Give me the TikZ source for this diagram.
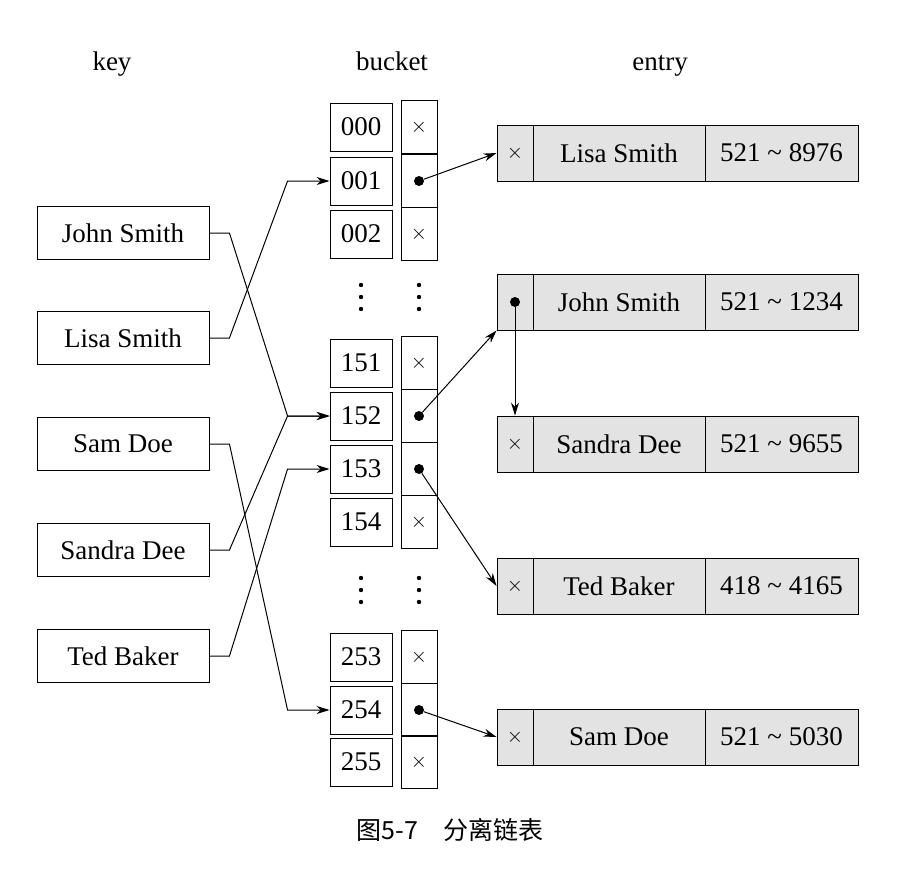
\documentclass[tikz,border=0pt]{standalone}
\usepackage{fontspec}
\setmainfont{Liberation Serif}
\newfontfamily\cjk{Noto Sans CJK SC}
\usetikzlibrary{positioning,calc,arrows.meta}
\tikzset{
  box/.style={draw,line width=0.9pt,inner sep=0pt,font=\fontsize{27}{28}\selectfont},
  keybox/.style={box,minimum width=172pt,minimum height=53pt},
  numbox/.style={box,minimum width=62pt,minimum height=48pt},
  ptrbox/.style={box,minimum width=36pt,minimum height=53pt,font=\fontsize{20}{20}\selectfont},
  ebox/.style={box,fill=gray!22,minimum height=56pt},
  link/.style={-{Stealth[length=13pt,width=8pt]},line width=1pt},
  pdot/.style={circle,fill,inner sep=0pt,minimum size=10pt},
  head/.style={font=\fontsize{27}{28}\selectfont,anchor=base}
}
\begin{document}
\begin{tikzpicture}[x=1pt,y=-1pt]
    \useasboundingbox (0,0) rectangle (905,870);
    % headers
    \node[head] (hkey) at (112,70) {key};
    \node[head] (hbucket) at (392,70) {bucket};
    \node[head] (hentry) at (660,70) {entry};

    % keys
    \node[keybox] (kjohn) at (123,233) {John Smith};
    \node[keybox] (klisa) at (123,338) {Lisa Smith};
    \node[keybox] (ksam) at (123,444) {Sam Doe};
    \node[keybox] (ksandra) at (123,550) {Sandra Dee};
    \node[keybox] (kted) at (123,656) {Ted Baker};

    % buckets
    \foreach \n/\y/\p in {000/127/x, 001/181/d, 002/234/x, 151/363/x, 152/416/d,
                          153/469/d, 154/522/x, 253/657/x, 254/710/d, 255/762/x} {
      \node[numbox] (b\n) at (361,\y) {\n};
      \node[ptrbox] (p\n) at (419,\y) {\if x\p$\times$\fi};
      \if d\p \node[pdot] (d\n) at (419,\y) {}; \fi
    }
    % vertical ellipses
    \foreach \y in {297,590}
      \foreach \x in {361,419}
        \foreach \d in {-12,0,12}
          \fill (\x,\y+\d) circle (2.2pt);

    % entries
    \foreach \e/\name/\num/\y in {lisa/Lisa Smith/521 \textasciitilde{} 8976/153,
                                  john/John Smith/521 \textasciitilde{} 1234/302,
                                  sandra/Sandra Dee/521 \textasciitilde{} 9655/444,
                                  ted/Ted Baker/418 \textasciitilde{} 4165/586,
                                  sam/Sam Doe/521 \textasciitilde{} 5030/737} {
      \node[ebox,minimum width=36pt] (e\e) at (515,\y) {};
      \node[ebox,minimum width=172pt] (n\e) at (619,\y) {\name};
      \node[ebox,minimum width=153pt] (v\e) at (781.5,\y) {\num};
    }
    \foreach \e in {lisa,sandra,ted,sam}
      \node[font=\fontsize{20}{20}\selectfont] at (e\e) {$\times$};
    \node[pdot] (djohn) at (ejohn) {};

    % key -> bucket
    \foreach \k/\b in {john/152, lisa/001, sam/254, sandra/152, ted/153}
      \draw[link] (k\k.east) -- ++(20,0) -- ($(b\b.west)+(-42,0)$) -- (b\b.west);

    % bucket -> entry
    \draw[link] (d001) -- (elisa.west);
    \draw[link] (d152) -- (ejohn.south west);
    \draw[link] (d153) -- (eted.west);
    \draw[link] (d254) -- (esam.west);
    \draw[link] (djohn) -- (esandra.north);

    % caption
    \node[font=\cjk\fontsize{25}{26}\selectfont] (cap) at (450,830) {图5-7\quad 分离链表};
\end{tikzpicture}
\end{document}
